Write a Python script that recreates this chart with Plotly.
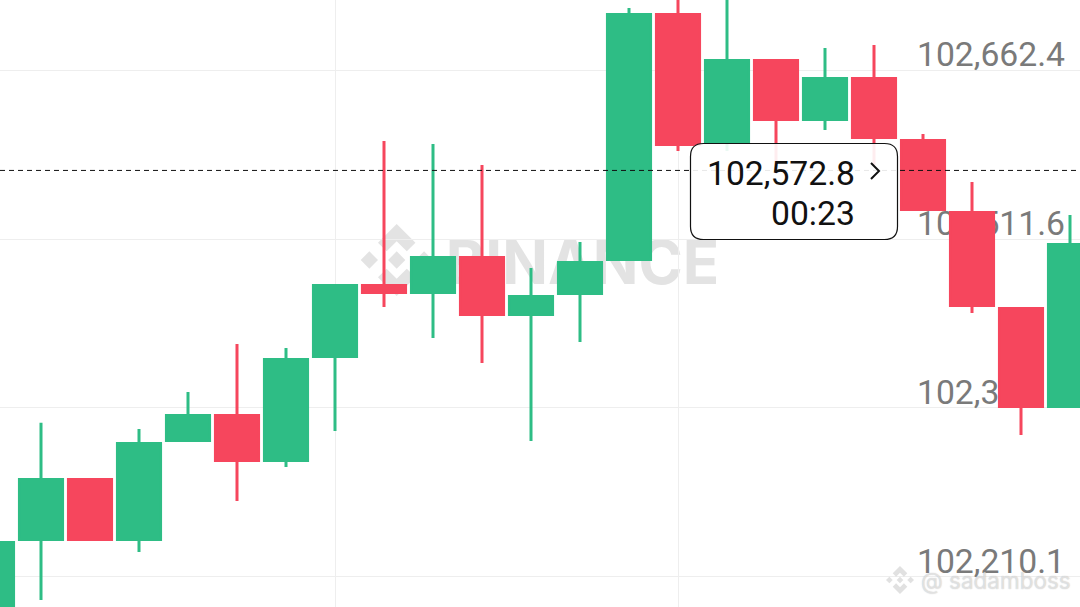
# BTC candlestick chart (Binance mobile style)
import plotly.graph_objects as go

W, H = 1080, 607

# Candle values
candle_idx = list(range(23))
open_vals = [102155.2, 102243.5, 102297.1, 102243.5, 102331.8, 102354.2, 102314.0, 102406.8, 102470.2, 102463.9,
             102495.2, 102444.3, 102463.0, 102493.3, 102712.0, 102597.7, 102670.9, 102618.2, 102654.9, 102599.5,
             102535.3, 102449.7, 102362.2]
high_vals = [102242.2, 102347.6, 102298.4, 102342.1, 102375.1, 102418.0, 102414.4, 102471.5, 102599.1, 102596.4,
             102577.6, 102485.8, 102509.0, 102717.7, 102733.8, 102742.7, 102672.2, 102682.0, 102684.7, 102605.3,
             102562.5, 102451.0, 102533.0]
low_vals = [102100.0, 102189.6, 102242.2, 102232.4, 102330.5, 102277.9, 102308.2, 102340.3, 102451.0, 102423.3,
            102401.0, 102331.4, 102419.7, 102492.0, 102590.1, 102590.1, 102573.2, 102608.9, 102577.6, 102536.6,
            102445.6, 102336.8, 102360.9]
close_vals = [102240.9, 102297.1, 102243.5, 102329.2, 102354.2, 102314.0, 102404.2, 102470.2, 102463.9, 102495.2,
              102444.3, 102460.4, 102490.7, 102712.0, 102595.9, 102670.9, 102618.2, 102654.9, 102602.1, 102537.9,
              102452.3, 102362.2, 102506.8]

price_ticks = [102662.4, 102511.6, 102361.0, 102210.1]
price_labels = ["102,662.4", "102,511.6", "102,361.0", "102,210.1"]
time_ticks = [7, 14, 21]
last_price = 102572.8

UP = "#2EBD85"
DOWN = "#F6465D"
GRID = "#EEEEEE"
FONT = "Roboto"


def px(x):
    return x / W


def py(y):
    return 1 - y / H


def poly(points, cx, cy, r):
    parts = [f"{px(cx + a * r):.5f},{py(cy - b * r):.5f}" for a, b in points]
    return "M" + " L".join(parts) + " Z"


# Binance logo pieces, unit size
LOGO = [
    [(0, 0.24), (0.24, 0), (0, -0.24), (-0.24, 0)],
    [(-0.76, 0.24), (-0.52, 0), (-0.76, -0.24), (-1, 0)],
    [(0.76, 0.24), (1, 0), (0.76, -0.24), (0.52, 0)],
    [(0, 1), (0.52, 0.48), (0.28, 0.24), (0, 0.52), (-0.28, 0.24), (-0.52, 0.48)],
    [(0, -1), (0.52, -0.48), (0.28, -0.24), (0, -0.52), (-0.28, -0.24), (-0.52, -0.48)],
]


def logo_shapes(cx, cy, r, color, layer):
    return [dict(type="path", xref="paper", yref="paper", path=poly(p, cx, cy, r),
                 fillcolor=color, line=dict(width=0), layer=layer) for p in LOGO]


def round_box(x0, y0, x1, y1, r):
    a, b, c, d = px(x0), py(y0), px(x1), py(y1)
    rx, ry = r / W, r / H
    return (f"M{a + rx:.5f},{b:.5f} L{c - rx:.5f},{b:.5f} Q{c:.5f},{b:.5f} {c:.5f},{b - ry:.5f} "
            f"L{c:.5f},{d + ry:.5f} Q{c:.5f},{d:.5f} {c - rx:.5f},{d:.5f} "
            f"L{a + rx:.5f},{d:.5f} Q{a:.5f},{d:.5f} {a:.5f},{d + ry:.5f} "
            f"L{a:.5f},{b - ry:.5f} Q{a:.5f},{b:.5f} {a + rx:.5f},{b:.5f} Z")


fig = go.Figure(go.Candlestick(
    x=candle_idx, open=open_vals, high=high_vals, low=low_vals, close=close_vals,
    increasing=dict(line=dict(color=UP, width=3), fillcolor=UP),
    decreasing=dict(line=dict(color=DOWN, width=3), fillcolor=DOWN),
    whiskerwidth=0, showlegend=False,
))

shapes = logo_shapes(396.7, 260, 36, "#E3E3E3", "below")

# BINANCE word sits under the candles
shapes.append(dict(type="rect", xref="paper", yref="paper", x0=px(445), x1=px(720), y0=py(290), y1=py(230),
                   line=dict(width=0), layer="below",
                   label=dict(text="<b>BINANCE</b>", textposition="middle center",
                              font=dict(family="Inter", size=60, color="#E3E3E3"))))

# last price line and tooltip
shapes.append(dict(type="line", xref="paper", yref="y", x0=0, x1=1, y0=last_price, y1=last_price,
                   line=dict(color="#111111", width=1, dash="5px,4px"), layer="above"))
shapes.append(dict(type="path", xref="paper", yref="paper", path=round_box(690.5, 143.5, 897.5, 239.5, 13),
                   fillcolor="rgba(255,255,255,0.9)", line=dict(color="#111111", width=1.2), layer="above"))
shapes.append(dict(type="path", xref="paper", yref="paper",
                   path=f"M{px(871):.5f},{py(163):.5f} L{px(879):.5f},{py(171):.5f} L{px(871):.5f},{py(179):.5f}",
                   line=dict(color="#111111", width=2), layer="above"))

shapes += logo_shapes(900, 580, 14, "rgba(215,215,215,0.75)", "above")

annotations = [
    dict(text="102,572.8", xref="paper", yref="paper", x=px(857), y=py(173), xanchor="right", yanchor="middle",
         showarrow=False, font=dict(family=FONT, size=33.7, color="#111111")),
    dict(text="00:23", xref="paper", yref="paper", x=px(857), y=py(214), xanchor="right", yanchor="middle",
         showarrow=False, font=dict(family=FONT, size=33.7, color="#111111")),
    dict(text="@ sadamboss", xref="paper", yref="paper", x=px(1073), y=py(580), xanchor="right", yanchor="middle",
         showarrow=False, font=dict(family="Inter", size=22.5, color="rgba(255,255,255,0.55)",
                                    shadow="0 0 1px #7a7a7a")),
]

fig.update_layout(
    width=W, height=H,
    margin=dict(l=0, r=0, t=0, b=0),
    paper_bgcolor="white", plot_bgcolor="white",
    boxgap=0.12, boxgroupgap=0,
    showlegend=False,
    shapes=shapes,
    annotations=annotations,
    xaxis=dict(range=[8 / 49, 1088 / 49], tickmode="array", tickvals=time_ticks, showticklabels=False,
               showgrid=True, gridcolor=GRID, gridwidth=1, zeroline=False, rangeslider=dict(visible=False),
               showline=False, ticks=""),
    yaxis=dict(range=[102183.3, 102724.85], side="right", tickmode="array", tickvals=price_ticks,
               ticktext=price_labels, ticklabelposition="inside", ticklabelshift=-16, ticklabelstandoff=12,
               tickfont=dict(family=FONT, size=33.7, color="#7A7A7A"),
               showgrid=True, gridcolor=GRID, gridwidth=1, zeroline=False, showline=False, ticks="",
               layer="below traces"),
)

# drop the default page margin so the figure fills the window
fig.write_html("out.html", config=dict(displayModeBar=False),
               post_script="document.body.style.margin='0';")
